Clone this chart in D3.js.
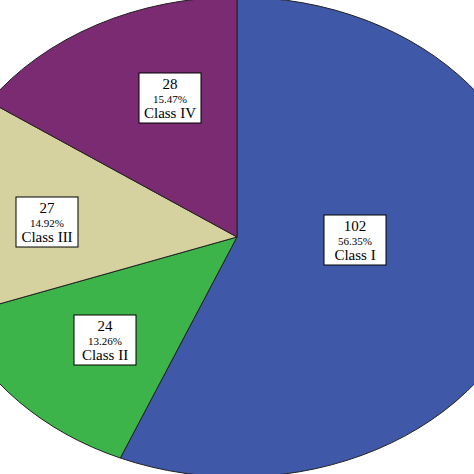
<!DOCTYPE html>
<html><head><meta charset="utf-8">
<script src="https://cdn.jsdelivr.net/npm/d3@7"></script>
<style>body{margin:0;background:#fff}</style></head>
<body><svg id="c" width="474" height="474"></svg>
<script>
const categories = ["Class I","Class II","Class III","Class IV"];
const counts = [102,24,27,28];
const percents = ["56.35%","13.26%","14.92%","15.47%"];
const colors = ["#3F58A8","#3CB44A","#D5D2A0","#7A2B72"];
const labelPos = [[355,240],[105,340],[47,222],[170,98]];

const svg = d3.select("#c");
const cx=237, cy=237, rx=300, ry=240;
const pie = d3.pie().sort(null).value(d=>d)(counts);
const arc = d3.arc().innerRadius(0).outerRadius(1);
const g = svg.append("g").attr("transform",`translate(${cx},${cy}) scale(${rx},${ry})`);
g.selectAll("path").data(pie).join("path")
  .attr("d",arc).attr("fill",(d,i)=>colors[i])
  .attr("stroke","#222").attr("stroke-width",1).attr("vector-effect","non-scaling-stroke");

const lg = svg.selectAll("g.l").data(categories).join("g").attr("class","l")
  .attr("transform",(d,i)=>`translate(${labelPos[i][0]},${labelPos[i][1]})`);
lg.append("rect").attr("x",-31).attr("y",-25).attr("width",62).attr("height",50)
  .attr("fill","#fff").attr("stroke","#000").attr("stroke-width",1);
const t = lg.append("text").attr("text-anchor","middle").attr("font-family","Liberation Serif").attr("fill","#000");
t.append("tspan").attr("x",0).attr("y",-9).attr("font-size",15).text((d,i)=>counts[i]);
t.append("tspan").attr("x",0).attr("y",5).attr("font-size",11).text((d,i)=>percents[i]);
t.append("tspan").attr("x",0).attr("y",20).attr("font-size",15).text(d=>d);
</script></body></html>
